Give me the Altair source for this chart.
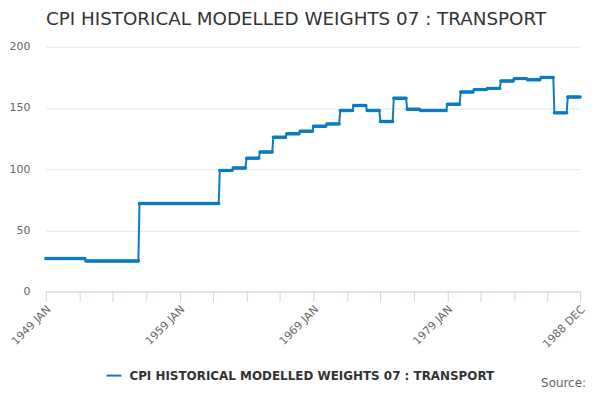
import altair as alt
import pandas as pd

# Annual weights (each applies to all 12 months of the year)
years = list(range(1949, 1989))
weights = [27, 27, 27, 25, 25, 25, 25, 72, 72, 72, 72, 72, 72,
           99, 101, 109, 114, 126, 129, 131, 135, 137, 148, 152, 148,
           139, 158, 149, 148, 148, 153, 163, 165, 166, 172, 174, 173,
           175, 146, 159]
months = ["JAN", "FEB", "MAR", "APR", "MAY", "JUN",
          "JUL", "AUG", "SEP", "OCT", "NOV", "DEC"]
tick_labels = ["1949 JAN", "1959 JAN", "1969 JAN", "1979 JAN", "1988 DEC"]
series_name = "CPI HISTORICAL MODELLED WEIGHTS 07 : TRANSPORT"
line_color = "#0b7bc4"

rows = []
for y, w in zip(years, weights):
    for m in months:
        rows.append({"idx": len(rows), "label": f"{y} {m}", "value": w,
                     "series": series_name})
df = pd.DataFrame(rows)

n = len(df)
label_idx = {int(df.index[df["label"] == t][0]): t for t in tick_labels}
tick_values = sorted(set(list(range(0, n, 30)) + [n - 1]))
expr = " : ".join([f"datum.value == {k} ? '{v}'" for k, v in label_idx.items()]) + " : ''"

base = alt.Chart(df)

line = base.mark_line(
    strokeWidth=2,
    point=alt.OverlayMarkDef(filled=True, size=12, opacity=1),
).encode(
    x=alt.X("idx:Q",
            scale=alt.Scale(domain=[0, n - 1], nice=False, zero=False),
            axis=alt.Axis(values=tick_values, labelExpr=expr, title=None,
                          grid=False, domainColor="#ccd6eb", tickColor="#ccd6eb",
                          tickSize=10, labelAngle=-45, labelAlign="right",
                          labelBaseline="middle", labelPadding=6, labelOffset=3,
                          labelFont="DejaVu Sans", labelFontSize=11,
                          labelColor="#666666", labelOverlap=False,
                          labelFlush=False, labelBound=False)),
    y=alt.Y("value:Q",
            scale=alt.Scale(domain=[0, 200], nice=False),
            axis=alt.Axis(values=[0, 50, 100, 150, 200], title=None, domain=False,
                          ticks=False, gridColor="#e6e6e6", labelPadding=16,
                          labelFont="DejaVu Sans", labelFontSize=11,
                          labelColor="#666666")),
    color=alt.Color("series:N",
                    scale=alt.Scale(domain=[series_name], range=[line_color]),
                    legend=alt.Legend(title=None, orient="none", legendX=60,
                                      legendY=322, symbolType="stroke",
                                      symbolSize=225, symbolStrokeWidth=2,
                                      labelFont="DejaVu Sans", labelFontSize=12,
                                      labelFontWeight="bold", labelColor="#333333",
                                      labelOffset=7, labelLimit=0)),
)

source = alt.Chart(pd.DataFrame({"t": ["Source:"]})).mark_text(
    align="right", baseline="bottom", font="DejaVu Sans", fontSize=12,
    color="#666666"
).encode(text="t:N", x=alt.value(543), y=alt.value(345))

chart = (line + source).properties(
    width=537,
    height=246,
    autosize=alt.AutoSizeParams(type="none"),
    padding={"left": 38, "top": 38, "right": 12, "bottom": 100},
    title=alt.TitleParams(series_name, anchor="middle", frame="group", dx=-17,
                          fontSize=18.4, font="DejaVu Sans", fontWeight="normal",
                          color="#333333", offset=12),
).configure_view(stroke=None)

chart.save("out.html", embed_options={"renderer": "svg", "actions": False})
